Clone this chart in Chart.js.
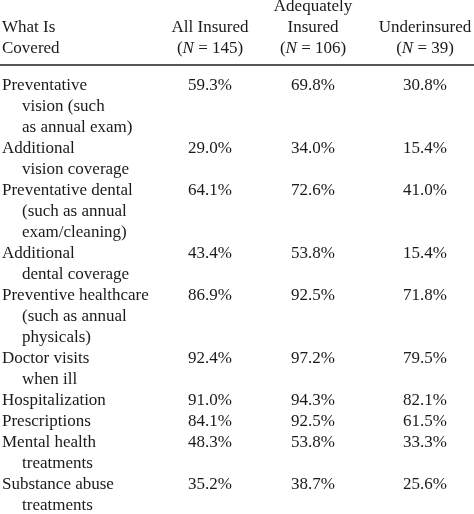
<!DOCTYPE html>
<html><head><meta charset="utf-8">
<script src="https://cdn.jsdelivr.net/npm/chart.js@4"></script>
<style>html,body{margin:0;padding:0;background:#fff}#wrap{width:474px;height:514px}</style>
</head><body><div id="wrap"><canvas id="c"></canvas></div>
<script>
// ── Table data ─────────────────────────────
var rowLabels = [
    ['Preventative', 'vision (such', 'as annual exam)'],
    ['Additional', 'vision coverage'],
    ['Preventative dental', '(such as annual', 'exam/cleaning)'],
    ['Additional', 'dental coverage'],
    ['Preventive healthcare', '(such as annual', 'physicals)'],
    ['Doctor visits', 'when ill'],
    ['Hospitalization'],
    ['Prescriptions'],
    ['Mental health', 'treatments'],
    ['Substance abuse', 'treatments']
];
var allInsured  = [59.3, 29.0, 64.1, 43.4, 86.9, 92.4, 91.0, 84.1, 48.3, 35.2];
var adequately  = [69.8, 34.0, 72.6, 53.8, 92.5, 97.2, 94.3, 92.5, 53.8, 38.7];
var underInsured = [30.8, 15.4, 41.0, 15.4, 71.8, 79.5, 82.1, 61.5, 33.3, 25.6];
var colHeaders = [['', 'What Is', 'Covered'], ['', 'All Insured', '(N = 145)'],
                  ['Adequately', 'Insured', '(N = 106)'], ['', 'Underinsured', '(N = 39)']];

// line index for each row start
var rowStart = [], n = 0;
rowLabels.forEach(function (r) { rowStart.push(n); n += r.length; });

var colX = [2, 210, 313, 425];
var font = '17px "Liberation Serif", "DejaVu Serif", serif';

var tablePlugin = {
    id: 'table',
    afterDraw: function (chart) {
        var ctx = chart.ctx, xs = chart.scales.x, ys = chart.scales.y;
        ctx.save();
        ctx.fillStyle = '#1a1a1a';
        ctx.font = font;
        ctx.textBaseline = 'middle';

        // header (lines -3, -2, -1)
        colHeaders.forEach(function (h, c) {
            ctx.textAlign = c === 0 ? 'left' : 'center';
            h.forEach(function (t, k) {
                if (!t) return;
                var y = ys.getPixelForValue(k - 3.8);
                var x = xs.getPixelForValue(colX[c]);
                var m = t.match(/^\(N = (\d+)\)$/);
                if (m) {
                    var a = '(', b = 'N', rest = ' = ' + m[1] + ')';
                    ctx.font = font;
                    var wa = ctx.measureText(a).width, wr = ctx.measureText(rest).width;
                    ctx.font = 'italic ' + font;
                    var wb = ctx.measureText(b).width;
                    var x0 = x - (wa + wb + wr) / 2;
                    ctx.textAlign = 'left';
                    ctx.font = font; ctx.fillText(a, x0, y);
                    ctx.font = 'italic ' + font; ctx.fillText(b, x0 + wa, y);
                    ctx.font = font; ctx.fillText(rest, x0 + wa + wb, y);
                    ctx.textAlign = 'center';
                } else {
                    ctx.fillText(t, x, y);
                }
            });
        });

        // rule under header
        var ry = ys.getPixelForValue(-1);
        ctx.strokeStyle = '#555';
        ctx.lineWidth = 2;
        ctx.beginPath(); ctx.moveTo(0, ry); ctx.lineTo(474, ry); ctx.stroke();

        // body
        ctx.font = font;
        rowLabels.forEach(function (r, i) {
            ctx.textAlign = 'left';
            r.forEach(function (t, k) {
                ctx.fillText(t, xs.getPixelForValue(k === 0 ? 2 : 22), ys.getPixelForValue(rowStart[i] + k));
            });
        });
        chart.data.datasets.forEach(function (ds, d) {
            var meta = chart.getDatasetMeta(d);
            ctx.textAlign = 'center';
            meta.data.forEach(function (pt, i) {
                ctx.fillText(ds.data[i].v.toFixed(1) + '%', pt.x, pt.y);
            });
        });
        ctx.restore();
    }
};

function series(vals, c) {
    return vals.map(function (v, i) { return { x: colX[c], y: rowStart[i], v: v }; });
}

new Chart(document.getElementById('c'), {
    type: 'scatter',
    data: {
        datasets: [
            { data: series(allInsured, 1), pointRadius: 0 },
            { data: series(adequately, 2), pointRadius: 0 },
            { data: series(underInsured, 3), pointRadius: 0 }
        ]
    },
    options: {
        responsive: true,
        maintainAspectRatio: false,
        animation: false,
        layout: { padding: 0 },
        plugins: { legend: { display: false }, tooltip: { enabled: false } },
        scales: {
            x: { display: false, min: 0, max: 474 },
            y: { display: false, reverse: true, min: -86 / 21, max: (514 - 86) / 21 }
        }
    },
    plugins: [tablePlugin]
});
</script></body></html>
